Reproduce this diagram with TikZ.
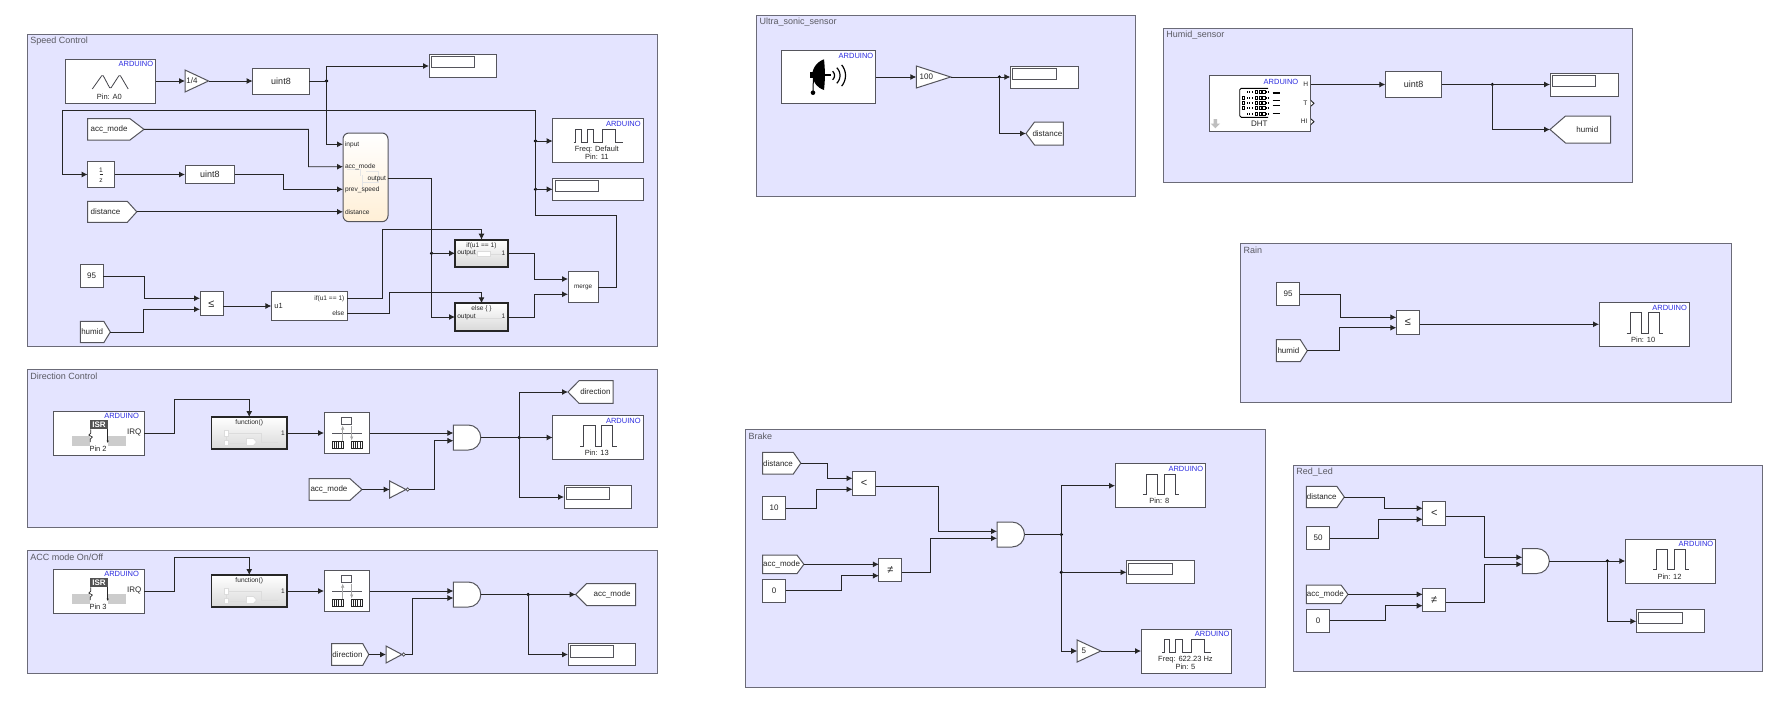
\documentclass[tikz,border=0pt]{standalone}
\usepackage{fontspec}
\setmainfont{Liberation Sans}
\usetikzlibrary{arrows.meta,calc}
\definecolor{panelfill}{HTML}{E4E4FF}
\definecolor{panelline}{HTML}{6B6B78}
\definecolor{inkc}{HTML}{262626}
\definecolor{edgec}{HTML}{55555C}
\definecolor{ardblue}{HTML}{2B2BE0}
\definecolor{titlec}{HTML}{5A5A62}
\definecolor{palec}{HTML}{DCDCDC}
\definecolor{chartlow}{HTML}{FFEFD6}
\newcommand{\fsz}[1]{\fontsize{#1}{#1}\selectfont}
\tikzset{
  panelbox/.style={draw=panelline,fill=panelfill,line width=1pt,inner sep=0pt,outer sep=0pt},
  paneltitle/.style={inner sep=0pt,outer sep=0pt,text=titlec,font=\fsz{9},anchor=west},
  blockbox/.style={draw=edgec,fill=white,line width=1pt,inner sep=0pt,outer sep=0pt,text=inkc,font=\fsz{9}},
  ghost/.style={inner sep=0pt,outer sep=0pt},
  shapeline/.style={draw=edgec,fill=white,line width=1pt,line join=miter},
  fnbox/.style={draw=black!85,line width=1.7pt,top color=white,bottom color=black!15,inner sep=0pt,outer sep=0pt,text=inkc},
  chartbox/.style={draw=edgec,line width=1pt,rounded corners=6pt,top color=white,bottom color=chartlow,inner sep=0pt,outer sep=0pt},
  dispin/.style={draw=edgec,fill=white,line width=1pt,inner sep=0pt,outer sep=0pt},
  lab/.style={inner sep=0pt,outer sep=0pt,text=inkc,font=\fsz{7.5}},
  tiny/.style={inner sep=0pt,outer sep=0pt,text=inkc,font=\fsz{6.6}},
  ardlab/.style={inner sep=0pt,outer sep=0pt,text=ardblue,font=\fsz{7.5},anchor=north east},
  wire/.style={draw=inkc,line width=.9pt,-{Latex[length=6pt,width=6pt]}},
  wirep/.style={draw=inkc,line width=.9pt},
  dot/.style={circle,fill=black,inner sep=0pt,outer sep=0pt,minimum size=3.6pt},
  wave/.style={draw=edgec!80!black,line width=.8pt},
  palewire/.style={draw=palec,line width=.7pt},
}
% name x1 y1 x2 y2 style text
\newcommand{\blk}[7]{\node[#6,minimum width={(#4-#2)*1pt},minimum height={(#5-#3)*1pt}] (#1) at ({(#2+#4)/2},{(#3+#5)/2}) {#7};}
\newcommand{\panl}[6]{\blk{#1}{#2}{#3}{#4}{#5}{panelbox}{}\node[paneltitle] (#1-t) at ($(#1.north west)+(3,6.8)$) {#6};}
\newcommand{\arlab}[1]{\node[ardlab] (#1-a) at ($(#1.north east)+(-2.4,2.5)$) {ARDUINO};}
\newcommand{\pinlab}[2]{\node[lab] (#1-p) at ($(#1.south)+(-1,-6.4)$) {#2};}
\newcommand{\freqlab}[3]{\node[lab] (#1-f) at ($(#1.south)+(-1,-13.4)$) {#2};\node[lab] (#1-p) at ($(#1.south)+(-1,-6.4)$) {#3};}
% simple PWM wave
\newcommand{\wavepl}[1]{\begin{scope}[shift={(#1.north)}]\draw[wave] (-17.5,30.7)--(-14,30.7)--(-14,10.3)--(-2.9,10.3)--(-2.9,30.7)--(3.9,30.7)--(3.9,10.3)--(15,10.3)--(15,30.7)--(18.9,30.7);\end{scope}}
\newcommand{\wavefq}[1]{\begin{scope}[shift={(#1.north)}]\draw[wave] (-24.3,23.6)--(-22.2,23.6)--(-22.2,10.6)--(-16.6,10.6)--(-16.6,23.6)--(-10.6,23.6)--(-10.6,10.6)--(-4.2,10.6)--(-4.2,23.6)--(4.8,23.6)--(4.8,10.6)--(18,10.6)--(18,23.6)--(24.8,23.6);\end{scope}}
% display
\newcommand{\disp}[5]{\blk{#1}{#2}{#3}{#4}{#5}{blockbox}{}\node[dispin,minimum width=43.3pt,minimum height=11.6pt,anchor=north west] (#1-i) at ($(#1.north west)+(2.4,2.3)$) {};}
% tag pointing right: name x1 y1 x2 y2 depth textoffset text
\newcommand{\tagR}[8]{\draw[shapeline] (#2,#3)--({#4-#6},#3)--(#4,{(#3+#5)/2})--({#4-#6},#5)--(#2,#5)--cycle;
 \blk{#1}{#2}{#3}{#4}{#5}{ghost}{}\node[lab,font=\fsz{8},anchor=west] (#1-t) at ($(#1.west)+(#7,0)$) {#8};}
\newcommand{\tagL}[8]{\draw[shapeline] (#4,#3)--({#2+#6},#3)--(#2,{(#3+#5)/2})--({#2+#6},#5)--(#4,#5)--cycle;
 \blk{#1}{#2}{#3}{#4}{#5}{ghost}{}\node[lab,font=\fsz{8},anchor=east] (#1-t) at ($(#1.east)+(-#7,0)$) {#8};}
% gain: name x1 y1 x2 y2 textoffset text
\newcommand{\gainb}[7]{\draw[shapeline] (#2,#3)--(#4,{(#3+#5)/2})--(#2,#5)--cycle;
 \blk{#1}{#2}{#3}{#4}{#5}{ghost}{}\node[lab,font=\fsz{8},anchor=west] (#1-t) at ($(#1.west)+(#6,0)$) {#7};}
% not
\newcommand{\notb}[5]{\draw[shapeline] (#2,#3)--(#4,{(#3+#5)/2})--(#2,#5)--cycle;
 \draw[draw=edgec,fill=white,line width=.8pt] ({#4+1.7},{(#3+#5)/2}) circle[radius=1.7pt];
 \node[ghost,minimum width={(#4+3.4-#2)*1pt},minimum height={(#5-#3)*1pt}] (#1) at ({(#2+#4+3.4)/2},{(#3+#5)/2}) {};}
% and gate
\newcommand{\andg}[5]{\pgfmathsetmacro{\myr}{(#5-#3)/2}\pgfmathsetmacro{\mym}{(#3+#5)/2}\pgfmathsetmacro{\myxm}{#4-\myr}
 \draw[shapeline] (#2,#3)--(\myxm,#3) .. controls ({\myxm+.55*\myr},#3) and (#4,{\mym-.55*\myr}) .. (#4,\mym) .. controls (#4,{\mym+.55*\myr}) and ({\myxm+.55*\myr},#5) .. (\myxm,#5)--(#2,#5)--cycle;
 \blk{#1}{#2}{#3}{#4}{#5}{ghost}{}}
% ISR arduino block
\newcommand{\isrblock}[5]{\blk{#1}{#2}{#3}{#4}{#5}{blockbox}{}
 \node[ardlab] (#1-a) at ($(#1.north east)+(-5.5,2.5)$) {ARDUINO};
 \begin{scope}[shift={(#1.north west)}]
 \fill[black!20] (17.9,25) rectangle (36.2,35);
 \fill[black!20] (53.9,25) rectangle (72.2,35);
 \fill[black!68] (36.2,9) rectangle (54.5,18.3);
 \draw[inkc,line width=.7pt] (37,18.3)--(37,22)--(35,24)--(38.5,26)--(36.5,28)--(36.5,31);
 \draw[inkc,line width=.7pt,-{Latex[length=2.5pt,width=2.5pt]}] (53.9,18.3)--(53.9,32);
 \end{scope}
 \node[ghost,text=white,font=\fsz{8}\bfseries] (#1-s) at ($(#1.north west)+(45.3,13.7)$) {ISR};
 \node[lab,font=\fsz{8},anchor=east] (#1-q) at ($(#1.east)+(-3,-1)$) {IRQ};}
% function block
\newcommand{\fnblock}[5]{\blk{#1}{#2}{#3}{#4}{#5}{fnbox}{}
 \begin{scope}[shift={(#1.north west)}]
 \draw[palewire] (12.5,16.3)--(50,16.3)--(50,25)--(60,25)--(66,25);
 \draw[palewire] (15,19)--(15,26)--(36,26);
 \draw[palewire,fill=white] (13,13) rectangle (17,19);
 \draw[palewire,fill=white] (13,23) rectangle (17,28);
 \draw[palewire,fill=white] (35,21.5)--(42,21.5)--(45,25)--(42,28.5)--(35,28.5)--cycle;
 \end{scope}
 \node[tiny] (#1-t) at ($(#1.north)+(0,6.2)$) {function()};
 \node[tiny] (#1-o) at ($(#1.east)+(-4,0)$) {1};}
% latch block
\newcommand{\latch}[5]{\blk{#1}{#2}{#3}{#4}{#5}{blockbox}{}
 \begin{scope}[shift={(#1.north west)}]
 \draw[edgec,line width=.8pt] (17.3,4.6) rectangle (27.7,12);
 \draw[edgec,line width=.8pt] (8,20.6)--(37.7,20.6);
 \draw[black!35,line width=.7pt,-{Latex[length=4pt,width=3.5pt]}] (18.7,28)--(18.7,13);
 \draw[black!35,line width=.7pt,-{Latex[length=4pt,width=3.5pt]}] (27.7,13)--(27.7,28);
 \foreach \myx in {10.2,12.4,14.6,16.8,29.2,31.4,33.6,35.8}{\draw[inkc,line width=.55pt] (\myx,28.6)--(\myx,36);}
 \draw[inkc,line width=.7pt] (8,28.6) rectangle (19.3,36) (27,28.6) rectangle (38,36);
 \end{scope}}
\begin{document}
\begin{tikzpicture}[x=1pt,y=-1pt]
\useasboundingbox (0,0) rectangle (1777,702);
\fill[white] (0,0) rectangle (1777,702);
% ---------- panels
\panl{pspeed}{27.3}{34.5}{657.5}{346}{Speed Control}
\panl{pdir}{27.3}{369.5}{657.5}{527.7}{Direction Control}
\panl{pacc}{27.3}{550}{657.5}{673.7}{ACC mode On/Off}
\panl{pultra}{756.7}{15.7}{1135.7}{196}{Ultra\_sonic\_sensor}
\panl{phumid}{1163.3}{28}{1632.3}{182.7}{Humid\_sensor}
\panl{prain}{1240.7}{243.3}{1731.3}{402}{Rain}
\panl{pbrake}{745.7}{429.3}{1265}{687.3}{Brake}
\panl{pred}{1293.3}{465.3}{1762.3}{671.3}{Red\_Led}

% ---------- Speed Control blocks
\blk{sa}{65}{59}{155.6}{103}{blockbox}{}\arlab{sa}\pinlab{sa}{Pin: A0}
\begin{scope}[shift={(sa.north)}]\draw[wave,rounded corners=1.5pt] (-18,30)--(-7.7,15.5)--(0,30)--(9.4,15.5)--(17.9,30);\end{scope}
\gainb{sg}{185}{70}{208.5}{92}{1.4}{1/4}
\blk{su}{252.6}{68}{309.4}{94}{blockbox}{uint8}
\disp{sd1}{429}{54}{496.6}{77}
\tagR{sac}{87.6}{118.7}{144}{140}{14}{3}{acc\_mode}
\blk{suz}{87.6}{161.3}{114.5}{187.7}{blockbox}{}
\node[tiny] (suz-n) at (101,170.4) {1};
\node[tiny] (suz-d) at (101,180.6) {z};
\draw[inkc,line width=.5pt] (99.5,174.5)--(102.5,174.5);
\blk{su2}{185}{165.3}{234.6}{183.7}{blockbox}{uint8}
\tagR{sdi}{87.6}{201.3}{136.8}{222.3}{9.5}{3}{distance}
\blk{sch}{343}{133}{388}{221.7}{chartbox}{}
\draw[draw=black!10,line width=.6pt] (347,169)--(360,169)--(360,176) (366,171)--(378,171)--(378,182)--(362,182) (362,175)--(362,188);
\node[tiny,anchor=west] (sch-1) at (345,144.3) {input};
\node[tiny,anchor=west] (sch-2) at (345,166.7) {acc\_mode};
\node[tiny,anchor=west] (sch-3) at (345,189.3) {prev\_speed};
\node[tiny,anchor=west] (sch-4) at (345,211.7) {distance};
\node[tiny,anchor=east] (sch-5) at (386,178.7) {output};
\blk{spw}{552.6}{118.7}{643}{162.7}{blockbox}{}\arlab{spw}\wavefq{spw}\freqlab{spw}{Freq: Default}{Pin: 11}
\disp{sd2}{552.6}{178}{643}{200.7}
\blk{sif}{455}{239.7}{508}{267}{fnbox}{}
\draw[palewire] (470,254)--(502,254);\draw[palewire,fill=white] (477,251.5) rectangle (490,256);
\node[tiny] (sif-t) at ($(sif.north)+(0,6)$) {if(u1 == 1)};
\node[tiny,anchor=west] (sif-o) at (457.3,253.3) {output};
\node[tiny] (sif-1) at (503.5,253.3) {1};
\blk{sel}{455}{303.3}{508}{331}{fnbox}{}
\draw[palewire] (470,318)--(502,318);
\node[tiny] (sel-t) at ($(sel.north)+(0,5.6)$) {else \{ \}};
\node[tiny,anchor=west] (sel-o) at (457.3,316.7) {output};
\node[tiny] (sel-1) at (503.5,316.7) {1};
\blk{smg}{568}{271.7}{598.3}{302.3}{blockbox}{\fsz{6.4}merge}
\blk{s95}{80.3}{264.3}{103}{287}{blockbox}{\fsz{8}95}
\tagR{shu}{80.3}{321.3}{110.3}{342.7}{6.5}{1}{humid}
\blk{scp}{200}{291.7}{223}{315.7}{blockbox}{\fsz{11}≤}
\blk{sie}{271.4}{291}{347}{320}{blockbox}{}
\node[tiny,font=\fsz{7.5},anchor=west] (sie-u) at (274.4,305.7) {u1};
\node[tiny,anchor=east] (sie-i) at (344.4,298.3) {if(u1 == 1)};
\node[tiny,anchor=east] (sie-e) at (344.4,313.3) {else};

% ---------- Direction blocks
\isrblock{da}{53.8}{411}{144.4}{455}\pinlab{da}{Pin 2}
\fnblock{df}{211.5}{417}{287}{449}
\latch{dl}{324}{412.5}{369.7}{453.5}
\andg{dn}{453.4}{425}{480.8}{450}
\tagR{dam}{309}{478.7}{362}{500.3}{12}{1.5}{acc\_mode}
\notb{dnt}{389.7}{481}{406}{498}
\tagL{dgo}{568}{380.7}{613}{403.3}{11}{2.5}{direction}
\blk{dpw}{552.6}{415.5}{643}{459.5}{blockbox}{}\arlab{dpw}\wavepl{dpw}\pinlab{dpw}{Pin: 13}
\disp{dds}{564}{485.5}{631.6}{508.5}

% ---------- ACC blocks
\isrblock{aa}{53.8}{569}{144.4}{613}\pinlab{aa}{Pin 3}
\fnblock{af}{211.5}{575}{287}{607}
\latch{al}{324}{570.5}{369.7}{611.5}
\andg{an}{453.4}{582}{480.8}{607}
\tagR{adi}{331.6}{643.7}{368.8}{665.3}{6}{0.8}{direction}
\notb{ant}{386}{646}{402}{663}
\tagL{ago}{575.6}{583.5}{635.5}{605.5}{11}{5}{acc\_mode}
\disp{ads}{568}{643.5}{635.5}{665.5}

% ---------- Ultra blocks
\blk{ua}{781.3}{50.5}{875.7}{103.5}{blockbox}{}\arlab{ua}
\fill[black] (824,59.3) .. controls (816,62) and (811.5,70) .. (812.5,76) .. controls (813.5,83) and (817,87.5) .. (824,90) .. controls (825.2,80) and (825.2,70) .. (824,59.3)--cycle;
\fill[black] (809.8,72) rectangle (814,78);
\draw[black,line width=1pt] (813.5,73)--(813,92.7);
\fill[black] (813,92.7) circle[radius=2.3pt];
\draw[black,line width=1.4pt] (824,75)--(831,75);
\draw[black,line width=1.2pt] plot[domain=-50:50,samples=11] ({829+5.5*cos(\x)},{75.5+5.5*sin(\x)});
\draw[black,line width=1.2pt] plot[domain=-45:45,samples=11] ({829+11*cos(\x)},{75.5+11*sin(\x)});
\draw[black,line width=1.2pt] plot[domain=-40:40,samples=11] ({829+16.5*cos(\x)},{75.5+16.5*sin(\x)});
\gainb{ug}{916.3}{66}{950.7}{88}{3.4}{100}
\disp{ud}{1010.3}{66}{1078}{88}
\tagL{ugo}{1026}{122}{1063.3}{145}{8.5}{1}{distance}

% ---------- Humid blocks
\blk{ha}{1209.3}{75}{1310.7}{131}{blockbox}{}
\node[ardlab] (ha-a) at (1298.3,79.5) {ARDUINO};
\draw[black,line width=.9pt,rounded corners=1.5pt] (1268,88.3)--(1239.7,88.3)--(1239.7,117.3)--(1268,117.3);
\foreach \myry in {91.7,97.7,103,107.7,113.7}{
  \draw[black,line width=1.6pt,dash pattern=on 1pt off 1.4pt] (1247,\myry)--(1254,\myry);
  \draw[black,line width=1.6pt,dash pattern=on 1pt off 1.4pt] (1266,\myry)--(1268.5,\myry);
  \draw[black,line width=.7pt] (1255.3,{\myry-1.5}) rectangle (1257.8,{\myry+1.5});
  \draw[black,line width=.7pt] (1259.2,{\myry-1.5}) rectangle (1261.6,{\myry+1.5});
  \draw[black,line width=.7pt] (1262.8,{\myry-1.5}) rectangle (1265.2,{\myry+1.5});
}
\foreach \myry in {97.7,103,107.7}{\draw[black,line width=.7pt] (1242,{\myry-1.6}) rectangle (1244.2,{\myry+1.6});}
\draw[black,line width=1.6pt] (1272.7,92.7)--(1280,92.7) (1272.7,113.3)--(1280,113.3);
\draw[black,line width=.7pt] (1272.7,100)--(1280,100) (1272.7,105.7)--(1280,105.7);
\fill[black!25] (1213.5,119)--(1217.2,119)--(1217.2,123.5)--(1220,123.5)--(1215.3,128.3)--(1210.7,123.5)--(1213.5,123.5)--cycle;
\node[lab,font=\fsz{8}] (ha-d) at (1259.3,123.3) {DHT};
\node[tiny,anchor=east] (ha-h) at (1308,84.5) {H};
\node[tiny,anchor=east] (ha-t) at (1307.5,103.3) {T};
\node[tiny,anchor=east] (ha-i) at (1307.5,121.7) {HI};
\draw[inkc,line width=.9pt,fill=white] (1310.7,100.3)--(1314,103.3)--(1310.7,106.3);
\draw[inkc,line width=.9pt,fill=white] (1310.7,118.7)--(1314,121.7)--(1310.7,124.7);
\blk{hu}{1385.3}{71.5}{1441.7}{97.5}{blockbox}{uint8}
\disp{hd}{1550}{73}{1618}{96}
\tagL{hgo}{1550}{116}{1610.7}{143}{15.5}{12.5}{humid}

% ---------- Rain blocks
\blk{r95}{1276.3}{282.7}{1299.7}{305.7}{blockbox}{\fsz{8}95}
\tagR{rhu}{1276.3}{339.7}{1307.3}{361.7}{7}{1.2}{humid}
\blk{rcp}{1396.3}{310.3}{1419.7}{334.3}{blockbox}{\fsz{11}≤}
\blk{rpw}{1599}{302.3}{1689.3}{346.3}{blockbox}{}\arlab{rpw}\wavepl{rpw}\pinlab{rpw}{Pin: 10}

% ---------- Brake blocks
\tagR{bdi}{762.6}{452.3}{800.8}{474}{7.5}{0.5}{distance}
\blk{b10}{762.6}{496.7}{785.6}{519.3}{blockbox}{\fsz{8}10}
\tagR{bac}{762.6}{555}{803.9}{573.7}{7}{0.5}{acc\_mode}
\blk{b0}{762.6}{579.3}{785.6}{602}{blockbox}{\fsz{8}0}
\blk{blt}{852.5}{471.7}{875.5}{495.7}{blockbox}{\fsz{11}<}
\blk{bne}{878.9}{558}{901.8}{581.7}{blockbox}{\fsz{11}≠}
\andg{ban}{997}{522}{1024.5}{547}
\blk{bp8}{1115}{463.7}{1205.5}{507.7}{blockbox}{}\arlab{bp8}\wavepl{bp8}\pinlab{bp8}{Pin: 8}
\disp{bds}{1126.5}{560.8}{1194.4}{583.8}
\gainb{bg5}{1077.2}{640}{1100.8}{662}{4.5}{5}
\blk{bp5}{1141}{629}{1231.9}{673}{blockbox}{}\arlab{bp5}\wavefq{bp5}\freqlab{bp5}{Freq: 622.23 Hz}{Pin: 5}

% ---------- Red Led blocks
\tagR{rdi}{1306.3}{486.3}{1344.3}{507.7}{7.5}{0.5}{distance}
\blk{r50}{1306.3}{526.7}{1329.7}{549.3}{blockbox}{\fsz{8}50}
\tagR{rac}{1306.3}{585}{1348}{603.7}{7}{0.5}{acc\_mode}
\blk{r0}{1306.3}{609.3}{1329.7}{632}{blockbox}{\fsz{8}0}
\blk{rlt}{1422.7}{501.7}{1445.7}{525.7}{blockbox}{\fsz{11}<}
\blk{rne}{1422.7}{588}{1445.7}{611.7}{blockbox}{\fsz{11}≠}
\andg{ran}{1522.3}{548.5}{1549.3}{573.5}
\blk{rp1}{1625.3}{539}{1715.7}{583}{blockbox}{}\arlab{rp1}\wavepl{rp1}\pinlab{rp1}{Pin: 12}
\disp{rds}{1636.3}{609.8}{1704.7}{632.8}

% ---------- junctions
\node[dot] (sj1) at (326.5,81) {};
\node[dot] (sj2) at (431.6,253.3) {};
\node[dot] (sj3) at (535.5,141) {};
\node[dot] (sj4) at (535.5,189.3) {};
\node[dot] (dj1) at (519.2,437.5) {};
\node[dot] (aj1) at (528.2,594.5) {};
\node[dot] (uj1) at (999.3,77) {};
\node[dot] (hj1) at (1492.3,84.5) {};
\node[dot] (bj1) at (1061.3,534.5) {};
\node[dot] (bj2) at (1061.3,572.3) {};
\node[dot] (rj1) at (1607.3,561) {};

% ---------- Speed wires
\draw[wire] (sa.east) -- (sg.west);
\draw[wire] (sg.east) -- (su.west);
\draw[wirep] (su.east) -- (sj1.center);
\draw[wire] (sj1.center) |- (sd1.west |- 0,66);
\draw[wire] (sj1.center) |- (sch.west |- 0,144.3);
\draw[wire] (sac.east) -- (308.5,129.35) |- (sch.west |- 0,166.7);
\draw[wire] (suz.east) -- (su2.west);
\draw[wire] (su2.east) -- (283.3,174.5) |- (sch.west |- 0,189.3);
\draw[wire] (sdi.east) -- (sch.west |- sdi.east);
\draw[wire] (sch.east |- 0,178.7) -- (431.6,178.7) -- (431.6,317) -- (sel.west |- 0,317);
\draw[wire] (sj2.center) -- (sif.west |- 0,253.3);
\draw[wire] (sif.east |- 0,253.3) -- (534.6,253.3) |- (smg.west |- 0,279);
\draw[wire] (sel.east |- 0,317) -- (534.6,317) |- (smg.west |- 0,294.3);
\draw[wire] (smg.east) -- (616.7,287) -- (616.7,215.3) -- (535.5,215.3) -- (535.5,110.3) -- (62.4,110.3) -- (62.4,174.5) -- (suz.west);
\draw[wire] (sj3.center) -- (spw.west |- sj3.center);
\draw[wire] (sj4.center) -- (sd2.west |- sj4.center);
\draw[wire] (s95.east |- 0,276) -- (144.4,276) |- (scp.west |- 0,298.3);
\draw[wire] (shu.east) -- (143.6,332) |- (scp.west |- 0,309.3);
\draw[wire] (scp.east |- 0,306) -- (sie.west |- 0,306);
\draw[wire] (sie.east |- 0,298.3) -- (382.5,298.3) -- (382.5,229) -| (sif.north);
\draw[wire] (sie.east |- 0,313.3) -- (389.3,313.3) -- (389.3,292.3) -| (sel.north);

% ---------- Direction wires
\draw[wire] (da.east) -- (174.4,433) -- (174.4,399.3) -| (df.north);
\draw[wire] (df.east) -- (dl.west);
\draw[wire] (dl.east) -- (dn.west |- dl.east);
\draw[wire] (dam.east) -- (dnt.west);
\draw[wire] (dnt.east) -- (434.6,489.5) |- (dn.west |- 0,440.7);
\draw[wirep] (dn.east) -- (dj1.center);
\draw[wire] (dj1.center) -- (dpw.west);
\draw[wire] (dj1.center) |- (dgo.west);
\draw[wire] (dj1.center) |- (dds.west);

% ---------- ACC wires
\draw[wire] (aa.east) -- (174.4,591) -- (174.4,557.3) -| (af.north);
\draw[wire] (af.east) -- (al.west);
\draw[wire] (al.east) -- (an.west |- al.east);
\draw[wire] (adi.east) -- (ant.west);
\draw[wire] (ant.east) -- (412.4,654.5) |- (an.west |- 0,598);
\draw[wirep] (an.east) -- (aj1.center);
\draw[wire] (aj1.center) -- (ago.west);
\draw[wire] (aj1.center) |- (ads.west);

% ---------- Ultra wires
\draw[wire] (ua.east) -- (ug.west);
\draw[wirep] (ug.east) -- (uj1.center);
\draw[wire] (uj1.center) -- (ud.west);
\draw[wire] (uj1.center) |- (ugo.west);

% ---------- Humid wires
\draw[wire] (ha.east |- hu.west) -- (hu.west);
\draw[wirep] (hu.east) -- (hj1.center);
\draw[wire] (hj1.center) -- (hd.west);
\draw[wire] (hj1.center) |- (hgo.west);

% ---------- Rain wires
\draw[wire] (r95.east) -- (1340.3,294.2) |- (rcp.west |- 0,317.3);
\draw[wire] (rhu.east) -- (1339.3,350.7) |- (rcp.west |- 0,327.7);
\draw[wire] (rcp.east |- rpw.west) -- (rpw.west);

% ---------- Brake wires
\draw[wire] (bdi.east) -- (827.5,463.15) |- (blt.west |- 0,478.3);
\draw[wire] (b10.east) -- (816.4,508) |- (blt.west |- 0,489.3);
\draw[wire] (bac.east) -- (bne.west |- bac.east);
\draw[wire] (b0.east) -- (841.7,590.65) |- (bne.west |- 0,575.7);
\draw[wire] (blt.east |- 0,486.3) -- (938.3,486.3) |- (ban.west |- 0,531.3);
\draw[wire] (bne.east |- 0,572.3) -- (930.2,572.3) |- (ban.west |- 0,538.3);
\draw[wirep] (ban.east) -- (bj1.center);
\draw[wire] (bj1.center) |- (bp8.west);
\draw[wirep] (bj1.center) -- (bj2.center);
\draw[wire] (bj2.center) -- (bds.west);
\draw[wire] (bj2.center) |- (bg5.west);
\draw[wire] (bg5.east) -- (bp5.west |- bg5.east);

% ---------- Red wires
\draw[wire] (rdi.east) -- (1384.7,497) |- (rlt.west |- 0,508.3);
\draw[wire] (r50.east) -- (1378.7,538) |- (rlt.west |- 0,519.3);
\draw[wire] (rac.east) -- (rne.west |- rac.east);
\draw[wire] (r0.east) -- (1385.7,620.65) |- (rne.west |- 0,605.7);
\draw[wire] (rlt.east |- 0,516.3) -- (1484.3,516.3) |- (ran.west |- 0,557.3);
\draw[wire] (rne.east |- 0,602.3) -- (1484.3,602.3) |- (ran.west |- 0,564.3);
\draw[wirep] (ran.east) -- (rj1.center);
\draw[wire] (rj1.center) -- (rp1.west);
\draw[wire] (rj1.center) |- (rds.west);
\end{tikzpicture}
\end{document}
